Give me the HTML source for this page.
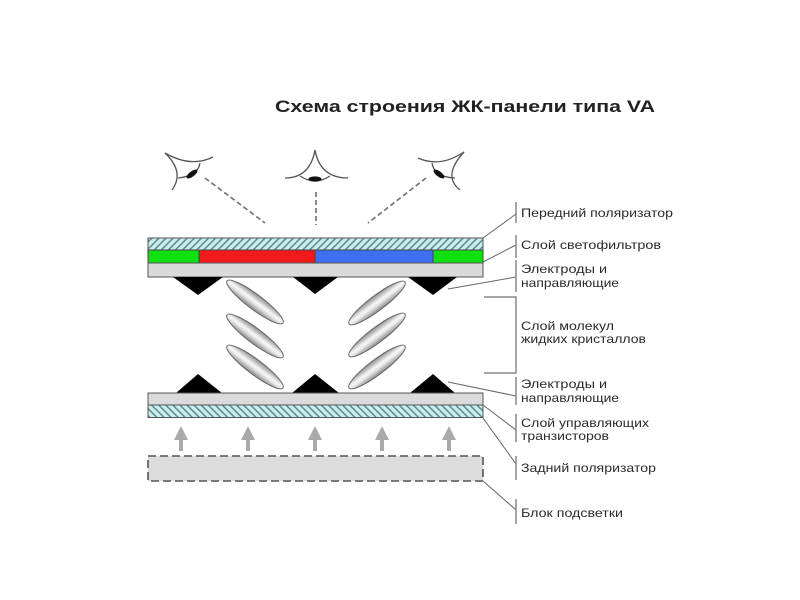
<!DOCTYPE html>
<html><head><meta charset="utf-8"><style>
html,body{margin:0;padding:0;background:#fff;}
svg{display:block;}
text{font-family:"Liberation Sans","DejaVu Sans",sans-serif;}
</style></head><body>
<svg width="800" height="600" viewBox="0 0 800 600" xmlns="http://www.w3.org/2000/svg">
<defs>
<pattern id="h1" patternUnits="userSpaceOnUse" width="5" height="5" patternTransform="rotate(45)">
<rect width="5" height="5" fill="#cdeeee"/><rect x="0" y="0" width="1.6" height="5" fill="#5f9090"/>
</pattern>
<pattern id="h2" patternUnits="userSpaceOnUse" width="5" height="5" patternTransform="rotate(-45)">
<rect width="5" height="5" fill="#cdeeee"/><rect x="0" y="0" width="1.6" height="5" fill="#5f9090"/>
</pattern>
<linearGradient id="lc" x1="0" y1="0" x2="0" y2="1">
<stop offset="0" stop-color="#8c8c8c"/>
<stop offset="0.45" stop-color="#f8f8f8"/>
<stop offset="0.62" stop-color="#e6e6e6"/>
<stop offset="1" stop-color="#858585"/>
</linearGradient>
</defs>
<rect width="800" height="600" fill="#fff"/>

<text x="275" y="112" font-size="17" font-weight="bold" fill="#222" textLength="380" lengthAdjust="spacingAndGlyphs">Схема строения ЖК-панели типа VA</text>

<!-- eyes -->
<g fill="none" stroke="#555" stroke-width="1.3">
<path d="M165,153 Q191,168 213,157"/>
<path d="M165,153 Q185,172 172,190"/>
<path d="M178,178 Q198,176 200,163"/>
<path d="M315,150 Q310,178 285,178"/>
<path d="M315,150 Q320,178 348,178"/>
<path d="M300,176 Q315,186 330,176"/>
<path d="M418,158 Q440,168 464,152"/>
<path d="M464,152 Q442,176 460,190"/>
<path d="M432,163 Q434,177 455,178"/>
</g>
<ellipse cx="192" cy="174" rx="6.5" ry="2.6" fill="#111" transform="rotate(-37 192 174)"/>
<ellipse cx="315" cy="179" rx="6.5" ry="2.6" fill="#111"/>
<ellipse cx="439" cy="174" rx="6.5" ry="2.6" fill="#111" transform="rotate(37 439 174)"/>

<!-- dashed view lines -->
<g stroke="#777" stroke-width="1.7" stroke-dasharray="5,3" fill="none">
<line x1="205" y1="178" x2="265" y2="223"/>
<line x1="316" y1="192" x2="316" y2="225"/>
<line x1="426" y1="178" x2="368" y2="223"/>
</g>

<!-- top stack -->
<rect x="148" y="238" width="335" height="12" fill="url(#h1)" stroke="#555" stroke-width="1"/>
<rect x="148" y="250" width="51" height="13" fill="#10df10"/>
<rect x="199" y="250" width="116" height="13" fill="#f01a1a"/>
<rect x="315" y="250" width="118" height="13" fill="#3d6ff0"/>
<rect x="433" y="250" width="50" height="13" fill="#10df10"/>
<g stroke="#444" stroke-width="1" fill="none">
<rect x="148" y="250" width="335" height="13"/>
<line x1="199" y1="250" x2="199" y2="263"/>
<line x1="315" y1="250" x2="315" y2="263"/>
<line x1="433" y1="250" x2="433" y2="263"/>
</g>
<rect x="148" y="263" width="335" height="14" fill="#dadada" stroke="#555" stroke-width="1"/>

<!-- electrodes -->
<g fill="#000">
<polygon points="173,277 223,277 198,295"/>
<polygon points="293,277 338,277 315,294"/>
<polygon points="408,277 457,277 433,295"/>
<polygon points="176,393 222,393 198,374"/>
<polygon points="292,393 339,393 315,374"/>
<polygon points="410,393 455,393 433,374"/>
</g>

<!-- LC molecules -->
<g fill="url(#lc)" stroke="#666" stroke-width="1">
<ellipse cx="255" cy="302" rx="35" ry="7.5" transform="rotate(37 255 302)"/>
<ellipse cx="255" cy="336" rx="35" ry="7.5" transform="rotate(37 255 336)"/>
<ellipse cx="255" cy="367" rx="35" ry="7.5" transform="rotate(37 255 367)"/>
<ellipse cx="377" cy="303" rx="35" ry="7.5" transform="rotate(-37 377 303)"/>
<ellipse cx="377" cy="335" rx="35" ry="7.5" transform="rotate(-37 377 335)"/>
<ellipse cx="377" cy="367" rx="35" ry="7.5" transform="rotate(-37 377 367)"/>
</g>

<!-- bottom stack -->
<rect x="148" y="393" width="335" height="12" fill="#dadada" stroke="#555" stroke-width="1"/>
<rect x="148" y="405" width="335" height="12.5" fill="url(#h2)" stroke="#555" stroke-width="1"/>

<!-- arrows -->
<g fill="#aaa">
<polygon points="174,440 188,440 181,426"/><rect x="179" y="439" width="4" height="12"/>
<polygon points="241,440 255,440 248,426"/><rect x="246" y="439" width="4" height="12"/>
<polygon points="308,440 322,440 315,426"/><rect x="313" y="439" width="4" height="12"/>
<polygon points="375,440 389,440 382,426"/><rect x="380" y="439" width="4" height="12"/>
<polygon points="442,440 456,440 449,426"/><rect x="447" y="439" width="4" height="12"/>
</g>

<!-- backlight -->
<rect x="148" y="456" width="335" height="25" fill="#dcdcdc" stroke="#555" stroke-width="1.6" stroke-dasharray="8,4"/>

<!-- leaders -->
<g stroke="#666" stroke-width="1" fill="none">
<line x1="483" y1="238" x2="516" y2="214"/>
<line x1="483" y1="262" x2="516" y2="245"/>
<line x1="448" y1="289" x2="516" y2="277"/>
<line x1="448" y1="382" x2="516" y2="396"/>
<line x1="483" y1="405" x2="516" y2="430"/>
<line x1="483" y1="418" x2="516" y2="464"/>
<line x1="483" y1="481" x2="516" y2="510"/>
</g>
<g stroke="#888" stroke-width="1.5" fill="none">
<line x1="516" y1="202" x2="516" y2="223"/>
<line x1="516" y1="235" x2="516" y2="258"/>
<line x1="516" y1="260" x2="516" y2="292"/>
<polyline points="484,297 516,297 516,373 484,373"/>
<line x1="516" y1="377" x2="516" y2="405"/>
<line x1="516" y1="414" x2="516" y2="442"/>
<line x1="516" y1="456" x2="516" y2="480"/>
<line x1="516" y1="499" x2="516" y2="524"/>
</g>

<!-- labels -->
<g font-size="12" fill="#2a2a2a">
<text x="521" y="217" textLength="152" lengthAdjust="spacingAndGlyphs">Передний поляризатор</text>
<text x="521" y="249" textLength="140" lengthAdjust="spacingAndGlyphs">Слой светофильтров</text>
<text x="521" y="273" textLength="86" lengthAdjust="spacingAndGlyphs">Электроды и</text>
<text x="521" y="287" textLength="98" lengthAdjust="spacingAndGlyphs">направляющие</text>
<text x="521" y="330" textLength="93" lengthAdjust="spacingAndGlyphs">Слой молекул</text>
<text x="521" y="343" textLength="125" lengthAdjust="spacingAndGlyphs">жидких кристаллов</text>
<text x="521" y="388" textLength="86" lengthAdjust="spacingAndGlyphs">Электроды и</text>
<text x="521" y="402" textLength="98" lengthAdjust="spacingAndGlyphs">направляющие</text>
<text x="521" y="427" textLength="128" lengthAdjust="spacingAndGlyphs">Слой управляющих</text>
<text x="521" y="440" textLength="88" lengthAdjust="spacingAndGlyphs">транзисторов</text>
<text x="521" y="472" textLength="135" lengthAdjust="spacingAndGlyphs">Задний поляризатор</text>
<text x="521" y="517" textLength="102" lengthAdjust="spacingAndGlyphs">Блок подсветки</text>
</g>
</svg>
</body></html>
